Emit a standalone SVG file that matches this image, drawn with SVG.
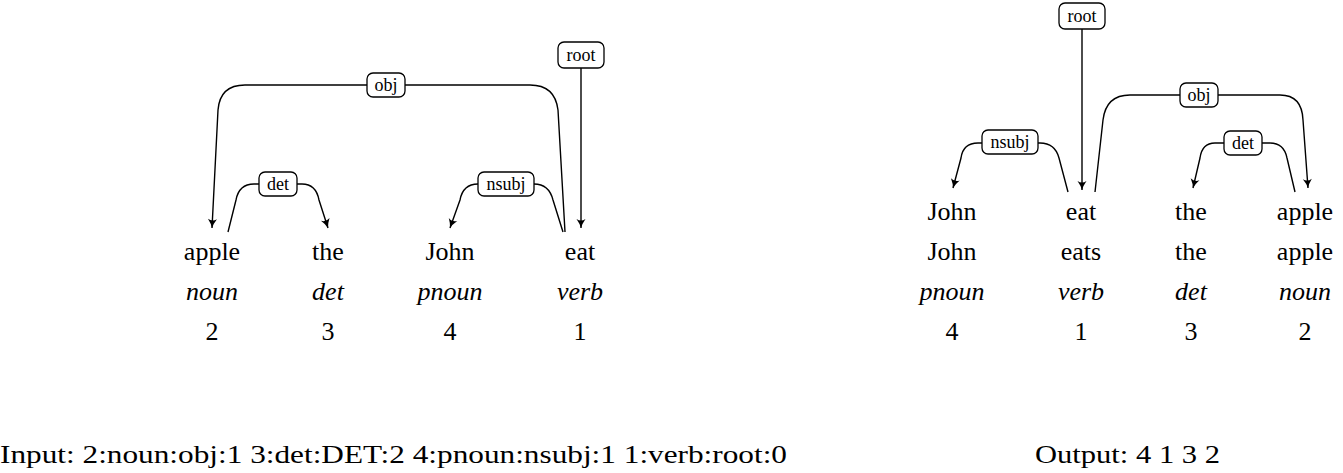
<svg xmlns="http://www.w3.org/2000/svg" width="1343" height="473" viewBox="0 0 1343 473" font-family="'Liberation Serif','Times New Roman','DejaVu Serif',serif">
<style>
text{font-family:'Liberation Serif','Times New Roman','DejaVu Serif',serif;font-size:26px;fill:#000;text-anchor:middle}
.i{font-style:italic}
.lb rect{fill:#fff;stroke:#000;stroke-width:1.3}
.lb text{font-size:18px}
.c path{fill:none;stroke:#000;stroke-width:1.4}
.b{text-anchor:start;font-size:26px}
</style>
<defs><marker id="a" markerWidth="12" markerHeight="12" refX="10" refY="6" orient="auto" markerUnits="userSpaceOnUse"><path d="M1,1.5 Q6,5 10,6 Q6,7 1,10.5 Q4,6 1,1.5Z" fill="#000"/></marker></defs>
<g class="c">
<path d="M565,232 L558,110 Q555,85 530,85 H245 Q220,85 218,110 L212,228" marker-end="url(#a)"/>
<path d="M228,232 L236,200 Q239,184 254,184 H302 Q316,184 319,200 L328,228" marker-end="url(#a)"/>
<path d="M563,232 L553,200 Q549,184 534,184 H478 Q463,184 460,200 L450,228" marker-end="url(#a)"/>
<path d="M581,66 V228" marker-end="url(#a)"/>
<path d="M1082,28 V190" marker-end="url(#a)"/>
<path d="M1068,192 L1059,158 Q1055,143 1040,143 H978 Q963,143 961,158 L953,188" marker-end="url(#a)"/>
<path d="M1095,192 L1103,120 Q1106,95 1130,95 H1280 Q1302,95 1303,120 L1308,188" marker-end="url(#a)"/>
<path d="M1295,192 L1287,158 Q1284,143 1270,143 H1215 Q1202,143 1200,158 L1193,188" marker-end="url(#a)"/>
</g>
<g id="lbl-obj" class="lb"><rect x="367" y="73" width="38" height="24" rx="6"/><text x="386" y="91">obj</text></g>
<g id="lbl-det" class="lb"><rect x="259" y="172" width="38" height="24" rx="6"/><text x="278" y="190">det</text></g>
<g id="lbl-nsubj" class="lb"><rect x="478" y="172" width="56" height="24" rx="6"/><text x="506" y="190">nsubj</text></g>
<g id="lbl-root" class="lb"><rect x="558" y="42" width="46" height="26" rx="6"/><text x="581" y="61">root</text></g>
<g id="lbl-root2" class="lb"><rect x="1059" y="3" width="46" height="26" rx="6"/><text x="1082" y="22">root</text></g>
<g id="lbl-nsubj2" class="lb"><rect x="982" y="130" width="56" height="24" rx="6"/><text x="1010" y="148">nsubj</text></g>
<g id="lbl-obj2" class="lb"><rect x="1180" y="83" width="38" height="24" rx="6"/><text x="1199" y="101">obj</text></g>
<g id="lbl-det2" class="lb"><rect x="1224" y="131" width="38" height="24" rx="6"/><text x="1243" y="149">det</text></g>
<g id="n-apple"><text x="212" y="260">apple</text><text class="i" x="212" y="300">noun</text><text x="212" y="340">2</text></g>
<g id="n-the"><text x="328" y="260">the</text><text class="i" x="328" y="300">det</text><text x="328" y="340">3</text></g>
<g id="n-john"><text x="450" y="260">John</text><text class="i" x="450" y="300">pnoun</text><text x="450" y="340">4</text></g>
<g id="n-eat"><text x="580" y="260">eat</text><text class="i" x="580" y="300">verb</text><text x="580" y="340">1</text></g>
<g id="m-john"><text x="952" y="220">John</text><text x="952" y="260">John</text><text class="i" x="952" y="300">pnoun</text><text x="952" y="340">4</text></g>
<g id="m-eat"><text x="1081" y="220">eat</text><text x="1081" y="260">eats</text><text class="i" x="1081" y="300">verb</text><text x="1081" y="340">1</text></g>
<g id="m-the"><text x="1191" y="220">the</text><text x="1191" y="260">the</text><text class="i" x="1191" y="300">det</text><text x="1191" y="340">3</text></g>
<g id="m-apple"><text x="1305" y="220">apple</text><text x="1305" y="260">apple</text><text class="i" x="1305" y="300">noun</text><text x="1305" y="340">2</text></g>
<text class="b" x="0" y="463" textLength="787" lengthAdjust="spacingAndGlyphs">Input: 2:noun:obj:1 3:det:DET:2 4:pnoun:nsubj:1 1:verb:root:0</text>
<text class="b" x="1035" y="463" textLength="185" lengthAdjust="spacingAndGlyphs">Output: 4 1 3 2</text>
</svg>
